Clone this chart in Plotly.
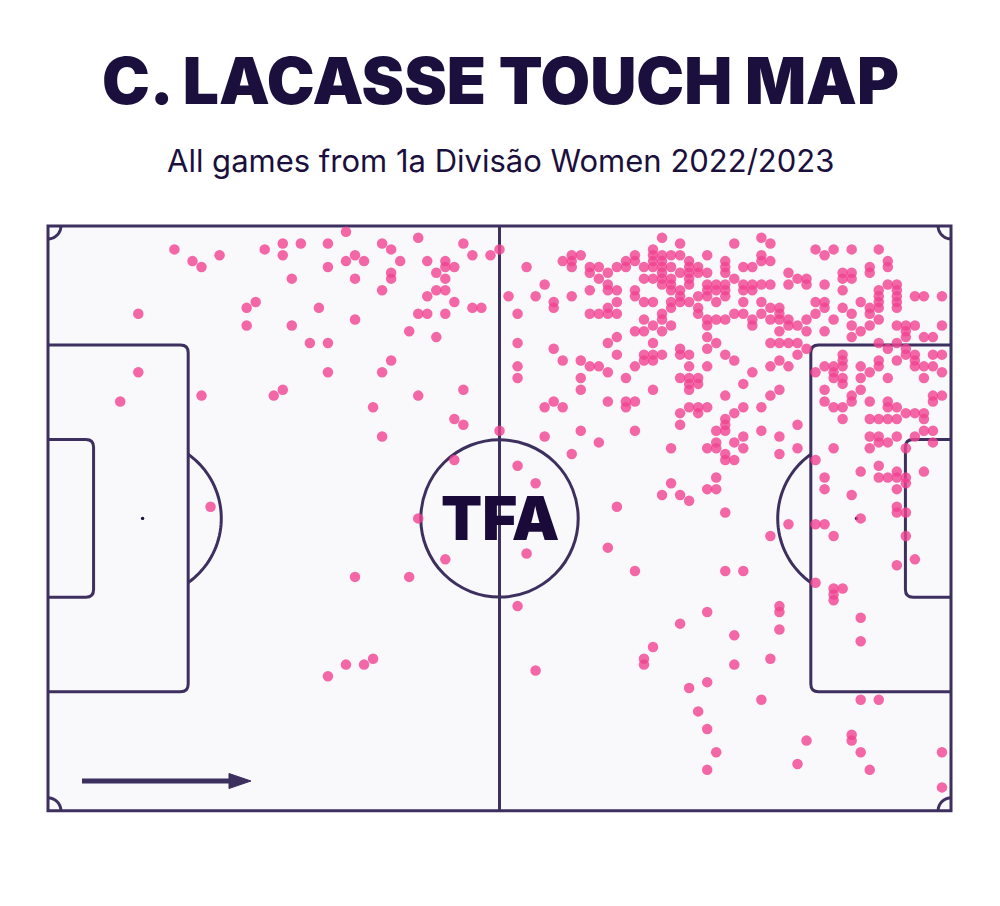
import numpy as np
import plotly.graph_objects as go

TITLE = "C. LACASSE TOUCH MAP"
SUBTITLE = "All games from 1a Divisão Women 2022/2023"
LOGO = "TFA"

# Touches in Opta coordinates: x 0-100 (left -> right, attacking right), y 0-100 (top -> bottom)
own_half = [
    (14, 4), (16, 6), (17, 7), (19, 5), (24, 4), (26, 3), (26, 5), (28, 3), (31, 3), (31, 7),
    (33, 1), (33, 6), (34, 5), (35, 6), (34, 9), (27, 9), (37, 3), (38, 4), (39, 6), (38, 8),
    (38, 9), (37, 11), (41, 2), (42, 6), (44, 6), (44, 7), (45, 7), (43, 8), (44, 9), (43, 11),
    (44, 11), (42, 12), (45, 13), (41, 15), (42, 15), (44, 15), (46, 3), (47, 5), (49, 5), (50, 4),
    (47, 14), (48, 14), (40, 18), (43, 19), (10, 15), (22, 14), (23, 13), (22, 17), (27, 17), (30, 14),
    (34, 16), (29, 20), (31, 20), (38, 23), (31, 25), (37, 25), (10, 25), (8, 30), (17, 29), (25, 29),
    (26, 28), (41, 29), (46, 28), (36, 31), (45, 33), (46, 34), (37, 36), (45, 40), (50, 35), (18, 48),
    (41, 50), (44, 57), (34, 60), (40, 60), (31, 77), (33, 75), (35, 75), (36, 74),
]

centre_area = [
    (55, 36), (59, 35), (61, 37), (58, 39), (52, 41), (54, 44), (53, 56), (52, 65),
]

attack_lower = [
    (63, 48), (71, 47), (75, 49), (62, 55), (65, 59), (75, 59), (77, 59), (54, 76), (73, 66), (70, 68),
    (76, 70), (67, 72), (66, 74), (66, 75), (76, 75), (80, 74), (81, 65), (81, 66), (81, 69), (73, 78),
    (71, 79), (79, 81), (72, 83), (73, 86), (74, 90), (73, 93), (83, 92), (84, 88), (89, 87), (89, 88),
    (90, 90), (91, 93), (90, 81), (92, 81), (90, 71), (90, 67), (87, 62), (88, 62), (87, 63), (87, 64),
    (85, 61), (82, 51), (85, 51), (86, 51), (87, 53), (80, 53), (90, 50), (94, 48), (94, 49), (95, 49),
    (95, 53), (96, 57), (94, 58), (99, 90), (99, 96),
]

attack_upper_left = [
    (68, 2), (70, 3), (67, 4),
    (58, 5), (59, 5), (65, 5), (67, 5), (68, 5), (69, 5), (70, 5), (73, 5),
    (57, 6), (58, 6), (64, 6), (65, 6), (67, 6), (68, 6), (71, 6), (75, 6),
    (53, 7), (58, 7), (60, 7), (61, 7), (63, 7), (64, 7), (66, 7), (67, 7), (68, 7), (69, 7),
    (71, 7), (72, 7), (75, 7),
    (60, 8), (62, 8), (68, 8), (70, 8), (71, 8), (72, 8), (73, 8), (75, 8),
    (61, 9), (66, 9), (67, 9), (68, 9), (69, 9), (71, 9),
    (55, 10), (62, 10), (68, 10), (69, 10), (71, 10), (73, 10), (74, 10), (75, 10),
    (60, 11), (62, 11), (63, 11), (65, 11), (69, 11), (70, 11), (73, 11), (74, 11), (75, 11),
    (51, 12), (54, 12), (58, 12), (65, 12), (70, 12), (72, 12), (73, 12), (75, 12),
    (56, 13), (63, 13), (66, 13), (67, 13), (69, 13), (70, 13), (71, 13), (74, 13),
    (56, 14), (62, 14), (69, 14), (72, 14),
    (52, 15), (60, 15), (61, 15), (62, 15), (63, 15), (68, 15), (72, 15),
    (66, 16), (68, 16), (73, 16), (74, 16), (75, 16),
    (67, 17), (69, 17), (73, 17),
    (65, 18), (66, 18), (68, 18),
    (63, 19), (73, 19),
    (52, 20), (62, 20), (67, 20), (74, 20),
    (56, 21), (70, 21), (73, 21),
    (63, 22), (66, 22), (67, 22), (68, 22), (70, 22), (71, 22), (75, 22),
    (57, 23), (59, 23), (66, 23), (67, 23),
    (52, 24), (60, 24), (61, 24), (65, 24), (71, 24), (73, 24),
    (62, 25),
    (52, 26), (59, 26), (64, 26), (70, 26), (71, 26), (72, 26),
]

attack_mid_left = [
    (59, 28), (67, 28), (71, 27), (72, 27), (71, 28), (55, 31), (56, 30), (57, 31), (62, 30), (64, 30),
    (64, 31), (65, 30), (70, 32), (71, 31), (72, 31), (73, 31), (72, 32), (75, 29), (65, 35), (70, 34),
    (75, 33), (75, 34), (74, 35), (75, 35), (74, 37), (73, 38), (74, 38), (75, 39), (75, 40), (69, 38),
    (69, 44), (74, 43), (73, 45), (74, 45), (68, 46), (70, 46),
]

attack_upper_right = [
    (76, 3), (79, 2), (80, 3), (85, 4), (86, 5), (87, 4), (89, 4), (92, 4),
    (77, 7), (78, 7), (79, 5), (79, 6), (80, 6), (76, 9),
    (82, 8), (83, 9), (84, 9), (84, 10), (88, 8), (89, 8), (88, 9), (89, 9), (91, 7), (91, 8),
    (93, 6), (93, 7),
    (77, 10), (78, 10), (77, 11), (78, 11), (79, 10), (80, 10), (82, 10), (86, 10), (88, 11),
    (92, 11), (93, 10), (94, 10), (94, 11), (92, 12), (94, 12), (92, 13), (94, 13), (92, 14), (94, 14),
    (96, 12), (97, 12), (99, 12),
    (77, 13), (79, 13), (80, 14), (81, 14), (85, 13), (86, 13), (86, 14), (88, 14), (90, 13), (91, 14),
    (91, 15), (92, 16),
    (76, 15), (77, 15), (79, 15), (81, 15),
    (78, 16), (78, 17), (80, 16), (81, 16), (82, 16), (82, 17), (83, 17), (84, 16), (85, 15), (87, 16),
    (89, 15),
    (81, 18), (84, 18), (86, 18), (89, 17), (90, 18), (89, 19), (91, 17),
    (94, 17), (95, 17), (96, 17), (95, 18), (95, 19), (99, 17), (97, 19), (98, 19),
    (80, 20), (81, 20), (82, 20), (83, 20), (84, 21), (83, 22), (76, 23),
    (92, 20), (93, 21), (94, 20), (95, 21), (95, 22),
    (80, 24), (81, 23), (82, 24), (78, 25),
    (85, 25), (86, 24), (87, 24), (88, 22), (88, 23), (88, 24), (90, 24), (91, 25), (92, 23), (92, 24),
    (94, 23), (96, 22), (96, 23), (96, 24), (97, 24), (98, 22), (98, 24), (99, 22), (99, 25),
]

attack_box = [
    (87, 25), (87, 26), (88, 26), (88, 27), (90, 26), (93, 26), (97, 26),
    (77, 27), (81, 28), (80, 29),
    (86, 28), (90, 28), (89, 29), (89, 30), (86, 30), (87, 31), (88, 31), (91, 30),
    (93, 30), (93, 31), (94, 31), (95, 32), (96, 32), (97, 32), (97, 33), (98, 29), (99, 29), (98, 30),
    (76, 32), (77, 31), (79, 31),
    (88, 33), (91, 33), (92, 33), (93, 33), (94, 33),
    (79, 35), (83, 34), (97, 35), (98, 35),
    (76, 37), (77, 36), (77, 38), (81, 36), (81, 39), (83, 38), (76, 40),
    (87, 38), (91, 36), (92, 36), (92, 37), (93, 37), (94, 36), (91, 38), (95, 38), (96, 36), (98, 37),
    (85, 40), (92, 41), (90, 42), (86, 43), (86, 45), (92, 43), (93, 43), (94, 42), (94, 43), (95, 43),
    (95, 44), (97, 42), (94, 45), (89, 46),
]

# ---------------- geometry ----------------
L, W = 105.0, 68.0
PX = 8.6  # pixels per metre
FIG_W, FIG_H = 1000, 906
PITCH_LEFT_PX, PITCH_TOP_PX = 48, 226

LINE = "#3d2f5e"
PITCH_BG = "#f9f9fc"
DOT = "rgba(241,66,145,0.8)"
INK = "#1b0f3d"

zones = [own_half, centre_area, attack_lower, attack_upper_left, attack_mid_left,
         attack_upper_right, attack_box]
ox = np.array([p[0] for z in zones for p in z], dtype=float)
oy = np.array([p[1] for z in zones for p in z], dtype=float)
xm = ox * L / 100.0
ym = oy * W / 100.0

fig = go.Figure()

shapes = []
shapes.append(dict(type="rect", x0=0, y0=0, x1=L, y1=W, fillcolor=PITCH_BG,
                   line=dict(color=LINE, width=3), layer="below"))
shapes.append(dict(type="line", x0=L / 2, y0=0, x1=L / 2, y1=W,
                   line=dict(color=LINE, width=3), layer="below"))
R = 9.15
shapes.append(dict(type="circle", x0=L / 2 - R, x1=L / 2 + R, y0=W / 2 - R, y1=W / 2 + R,
                   line=dict(color=LINE, width=3), layer="below"))


def box(depth, half, r=0.9, right=False):
    y0, y1 = W / 2 - half, W / 2 + half
    if not right:
        xi = depth
        return (f"M 0,{y0} L {xi - r},{y0} Q {xi},{y0} {xi},{y0 + r} L {xi},{y1 - r} "
                f"Q {xi},{y1} {xi - r},{y1} L 0,{y1}")
    xi = L - depth
    return (f"M {L},{y0} L {xi + r},{y0} Q {xi},{y0} {xi},{y0 + r} L {xi},{y1 - r} "
            f"Q {xi},{y1} {xi + r},{y1} L {L},{y1}")


for right in (False, True):
    shapes.append(dict(type="path", path=box(16.3, 20.16, right=right),
                       line=dict(color=LINE, width=3), layer="below"))
    shapes.append(dict(type="path", path=box(5.3, 9.16, right=right),
                       line=dict(color=LINE, width=3), layer="below"))

# penalty arcs
for right in (False, True):
    cx = L - 11 if right else 11
    lim = np.degrees(np.arccos(5.3 / R))
    th = np.radians(np.linspace(-lim, lim, 40))
    if right:
        px_ = cx - R * np.cos(th)
    else:
        px_ = cx + R * np.cos(th)
    py_ = W / 2 + R * np.sin(th)
    path = "M " + " L ".join(f"{a:.3f},{b:.3f}" for a, b in zip(px_, py_))
    shapes.append(dict(type="path", path=path, line=dict(color=LINE, width=3), layer="below"))
    shapes.append(dict(type="circle", x0=cx - 0.2, x1=cx + 0.2, y0=W / 2 - 0.2, y1=W / 2 + 0.2,
                       fillcolor=INK, line=dict(width=0), layer="below"))

# corner arcs
rc = 1.5
for cx, cy, a0 in [(0, 0, 0), (L, 0, 90), (L, W, 180), (0, W, 270)]:
    th = np.radians(np.linspace(a0, a0 + 90, 20))
    px_ = cx + rc * np.cos(th)
    py_ = cy + rc * np.sin(th)
    path = "M " + " L ".join(f"{a:.3f},{b:.3f}" for a, b in zip(px_, py_))
    shapes.append(dict(type="path", path=path, line=dict(color=LINE, width=3), layer="below"))

# direction arrow
ay = (781 - PITCH_TOP_PX) / PX
ax0 = (82 - PITCH_LEFT_PX) / PX
ax1 = (229 - PITCH_LEFT_PX) / PX
atip = (251 - PITCH_LEFT_PX) / PX
ah = 7.5 / PX
shapes.append(dict(type="line", x0=ax0, x1=ax1 + 0.3, y0=ay, y1=ay,
                   line=dict(color=LINE, width=5)))
shapes.append(dict(type="path", path=f"M {ax1},{ay - ah} L {atip},{ay} L {ax1},{ay + ah} Z",
                   fillcolor=LINE, line=dict(color=LINE, width=1)))

fig.add_trace(go.Scatter(x=xm, y=ym, mode="markers",
                         marker=dict(size=10.5, color=DOT, line=dict(width=0)),
                         hoverinfo="skip", showlegend=False))

annotations = [
    dict(text=TITLE, x=0.5, y=1 - 80 / FIG_H, xref="paper", yref="paper", showarrow=False,
         xanchor="center", yanchor="middle",
         font=dict(family="Inter", size=64, color=INK, weight=900)),
    dict(text=SUBTITLE, x=0.5, y=1 - 160 / FIG_H, xref="paper", yref="paper", showarrow=False,
         xanchor="center", yanchor="middle",
         font=dict(family="Inter", size=31, color=INK, weight=400)),
    dict(text=LOGO, x=L / 2, y=W / 2, xref="x", yref="y", showarrow=False,
         xanchor="center", yanchor="middle",
         font=dict(family="Inter", size=60, color="#1a0a3a", weight=900)),
]

fig.update_layout(
    width=FIG_W, height=FIG_H, autosize=False,
    margin=dict(l=0, r=0, t=0, b=0),
    paper_bgcolor="white", plot_bgcolor="white",
    shapes=shapes, annotations=annotations,
    xaxis=dict(range=[-PITCH_LEFT_PX / PX, (FIG_W - PITCH_LEFT_PX) / PX], visible=False,
               fixedrange=True),
    yaxis=dict(range=[(FIG_H - PITCH_TOP_PX) / PX, -PITCH_TOP_PX / PX], visible=False,
               fixedrange=True),
)

fig.write_html("out.html")
